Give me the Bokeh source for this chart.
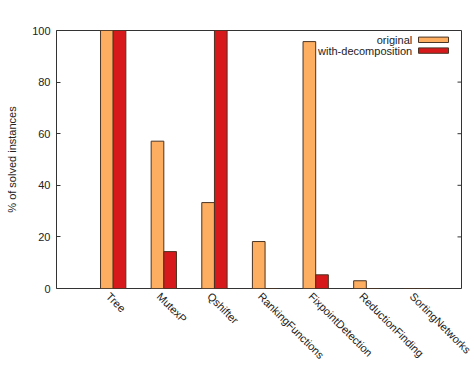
import math
from bokeh.plotting import figure
from bokeh.models import (Range1d, LinearAxis, FixedTicker, Label, BoxAnnotation,
                          ColumnDataSource)
from bokeh.transform import dodge
from bokeh.embed import file_html
from bokeh.resources import INLINE

categories = ["Tree", "MutexP", "Qshifter", "RankingFunctions",
              "FixpointDetection", "ReductionFinding", "SortingNetworks"]
original = [100, 57.1, 33.3, 18.2, 95.7, 3.0, 0]
with_decomposition = [100, 14.3, 100, 0, 5.3, 0, 0]
y_ticks = [0, 20, 40, 60, 80, 100]
series_names = ["original", "with-decomposition"]
colors = ["#FDAE61", "#D7191C"]

FONT = "Liberation Sans"
idx = list(range(len(categories)))
source = ColumnDataSource(dict(idx=idx, original=original, decomp=with_decomposition))

p = figure(frame_width=405, frame_height=258,
           x_range=Range1d(-1.12, 6.88), y_range=Range1d(0, 100),
           output_backend="svg", toolbar_location=None,
           x_axis_location=None, y_axis_location="left",
           min_border_left=56, min_border_right=13, min_border_top=30,
           min_border_bottom=70)
p.grid.visible = False
p.outline_line_color = "#333333"
p.outline_line_width = 1
p.background_fill_color = "white"
p.border_fill_color = "white"

# bars
bar_line = "#4a3424"
p.vbar(x=dodge("idx", -0.125, range=p.x_range), top="original", bottom=0, width=0.25,
       fill_color=colors[0], line_color=bar_line, line_width=1, source=source)
p.vbar(x=dodge("idx", 0.125, range=p.x_range), top="decomp", bottom=0, width=0.25,
       fill_color=colors[1], line_color=bar_line, line_width=1, source=source)

# y axis
ya = p.yaxis[0]
ya.ticker = FixedTicker(ticks=y_ticks)
ya.axis_line_color = None
ya.major_tick_in = 4
ya.major_tick_out = 0
ya.minor_tick_in = 0
ya.minor_tick_out = 0
ya.major_tick_line_color = "#333333"
ya.major_label_standoff = 6
ya.major_label_text_font = FONT
ya.major_label_text_font_size = "11px"
ya.major_label_text_color = "#222222"
ya.axis_label = "% of solved instances"
ya.axis_label_text_font = FONT
ya.axis_label_text_font_size = "11px"
ya.axis_label_text_font_style = "normal"
ya.axis_label_text_color = "#222222"
ya.axis_label_standoff = 11

# mirrored tick marks on the right border
p.ray(x=p.x_range.end, y=y_ticks, length=4, length_units="screen", angle=math.pi,
      line_color="#333333", line_width=1)

# category labels (slightly shifted left like the original)
shift = 0.1
p.extra_x_ranges = {"lab": Range1d(-1.12 + shift, 6.88 + shift)}
xa = LinearAxis(x_range_name="lab", ticker=FixedTicker(ticks=idx),
                major_label_overrides={i: c for i, c in zip(idx, categories)},
                major_label_orientation=-math.pi / 4,
                axis_line_color=None, major_tick_line_color=None,
                minor_tick_line_color=None, major_tick_in=0, major_tick_out=0,
                minor_tick_in=0, minor_tick_out=0, major_label_standoff=6,
                major_label_text_font=FONT, major_label_text_font_size="11px",
                major_label_text_color="#222222")
p.add_layout(xa, "below")

# legend (text right-aligned, swatch on the right)
text_right = 355.7
ys = [248.7, 237.9]
for name, col, yy in zip(series_names, colors, ys):
    p.add_layout(Label(x=text_right, y=yy, x_units="screen", y_units="screen",
                       text=name, text_align="right", text_baseline="middle",
                       text_font=FONT, text_font_size="11px", text_color="#222222"))
    p.add_layout(BoxAnnotation(left=362, right=392, bottom=yy - 2.7, top=yy + 2.7,
                               left_units="screen", right_units="screen",
                               bottom_units="screen", top_units="screen",
                               fill_color=col, fill_alpha=1.0,
                               line_color=bar_line, line_width=1, line_alpha=1.0))

open("out.html", "w").write(file_html(p, INLINE))
